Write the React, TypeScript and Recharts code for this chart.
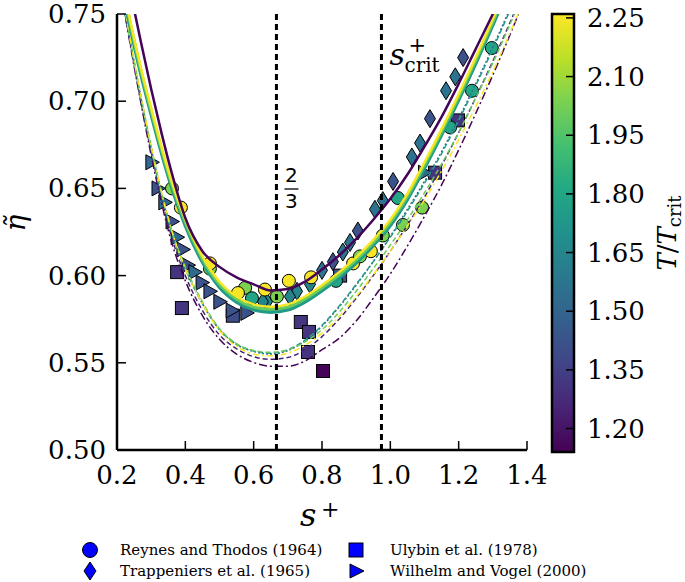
import React from 'react';
import {
  ComposedChart, Line, Scatter, XAxis, YAxis, ReferenceLine, ReferenceArea,
} from 'recharts';

// s+ grid shared by every model curve
const S_GRID = [0.21, 0.24, 0.27, 0.30, 0.33, 0.36, 0.40, 0.45, 0.50, 0.55, 0.60, 0.65, 0.70, 0.75, 0.80, 0.85, 0.90, 0.95, 1.00, 1.05, 1.10, 1.15, 1.20, 1.25, 1.30, 1.35, 1.40];

// solid curves (upper family)
const etaSolidPurple = [0.790, 0.762, 0.734, 0.707, 0.682, 0.659, 0.633, 0.614, 0.605, 0.599, 0.595, 0.5915, 0.5923, 0.5965, 0.6035, 0.6115, 0.621, 0.632, 0.644, 0.658, 0.674, 0.691, 0.710, 0.730, 0.750, 0.771, 0.793];
const etaSolidTeal = [0.772, 0.742, 0.716, 0.693, 0.671, 0.651, 0.629, 0.608, 0.5935, 0.585, 0.5805, 0.5792, 0.5805, 0.585, 0.5915, 0.599, 0.6075, 0.6175, 0.629, 0.644, 0.662, 0.681, 0.701, 0.722, 0.744, 0.767, 0.790];
const etaSolidGreen = [0.773, 0.7435, 0.7175, 0.6945, 0.6725, 0.6525, 0.6305, 0.6095, 0.595, 0.5865, 0.582, 0.5807, 0.582, 0.5865, 0.593, 0.6005, 0.609, 0.619, 0.6305, 0.6455, 0.6635, 0.6825, 0.7025, 0.7235, 0.7455, 0.7685, 0.7915];
const etaSolidYellow = [0.774, 0.745, 0.719, 0.696, 0.674, 0.654, 0.632, 0.611, 0.5965, 0.588, 0.5835, 0.5822, 0.5835, 0.588, 0.5945, 0.602, 0.6105, 0.6205, 0.632, 0.647, 0.665, 0.684, 0.704, 0.725, 0.747, 0.770, 0.793];

// broken curves (lower family)
const etaDashDotPurple = [0.765, 0.731, 0.699, 0.669, 0.642, 0.619, 0.597, 0.577, 0.5635, 0.555, 0.5502, 0.548, 0.548, 0.551, 0.5575, 0.564, 0.574, 0.587, 0.601, 0.617, 0.634, 0.652, 0.672, 0.693, 0.715, 0.738, 0.762];
const etaDashPurple = [0.766, 0.732, 0.700, 0.671, 0.645, 0.622, 0.600, 0.580, 0.566, 0.558, 0.5535, 0.552, 0.553, 0.5575, 0.565, 0.575, 0.587, 0.600, 0.614, 0.629, 0.645, 0.663, 0.682, 0.702, 0.723, 0.745, 0.768];
const etaDotBlue = [0.767, 0.733, 0.702, 0.673, 0.647, 0.625, 0.604, 0.584, 0.569, 0.5605, 0.5565, 0.555, 0.557, 0.5625, 0.571, 0.582, 0.5945, 0.608, 0.6225, 0.638, 0.654, 0.671, 0.690, 0.710, 0.731, 0.753, 0.776];
const etaDashTeal = [0.767, 0.733, 0.702, 0.673, 0.647, 0.625, 0.604, 0.584, 0.569, 0.5605, 0.5568, 0.5555, 0.5575, 0.563, 0.5715, 0.5825, 0.595, 0.608, 0.622, 0.637, 0.653, 0.670, 0.689, 0.709, 0.730, 0.752, 0.775];
const etaDashGreen = [0.768, 0.734, 0.703, 0.674, 0.648, 0.626, 0.605, 0.585, 0.5695, 0.561, 0.557, 0.556, 0.5575, 0.562, 0.569, 0.579, 0.591, 0.604, 0.6175, 0.632, 0.6475, 0.664, 0.682, 0.702, 0.722, 0.744, 0.767];
const etaDashYellow = [0.768, 0.734, 0.703, 0.674, 0.648, 0.626, 0.604, 0.584, 0.5685, 0.5595, 0.555, 0.554, 0.5555, 0.560, 0.567, 0.5765, 0.588, 0.6005, 0.614, 0.6285, 0.6435, 0.660, 0.678, 0.697, 0.717, 0.739, 0.762];

// experimental points: [s+, eta, T/Tcrit]
const reynesThodos = [
  [0.361, 0.650, 2.04], [0.387, 0.639, 2.25], [0.472, 0.604, 2.04], [0.472, 0.607, 2.25],
  [0.575, 0.593, 2.04], [0.554, 0.590, 2.25], [0.595, 0.587, 1.80], [0.633, 0.592, 2.25],
  [0.668, 0.588, 2.04], [0.703, 0.597, 2.25], [0.768, 0.599, 2.25], [0.841, 0.597, 1.80],
  [0.891, 0.607, 2.25], [0.911, 0.611, 2.04], [0.943, 0.614, 2.25], [0.978, 0.623, 2.04],
  [1.022, 0.6445, 1.80], [1.037, 0.629, 2.04], [1.093, 0.639, 2.04], [1.175, 0.685, 1.80],
  [1.239, 0.706, 1.80], [1.297, 0.7305, 1.80],
];
const trappeniers = [
  [1.213, 0.725, 1.42], [1.19, 0.714, 1.56], [1.163, 0.706, 1.56], [1.116, 0.690, 1.42],
  [1.087, 0.676, 1.56], [1.063, 0.668, 1.56], [1.008, 0.654, 1.42], [0.978, 0.643, 1.56],
  [0.955, 0.638, 1.56], [0.905, 0.6256, 1.42], [0.882, 0.619, 1.56], [0.861, 0.6135, 1.56],
  [0.832, 0.608, 1.42], [0.80, 0.603, 1.56], [0.765, 0.595, 1.64], [0.727, 0.591, 1.64],
  [0.706, 0.588, 1.64], [0.639, 0.585, 1.64], [0.627, 0.585, 1.64],
];
const ulybin = [
  [0.376, 0.602, 1.31], [0.390, 0.5814, 1.31], [0.539, 0.577, 1.40], [0.738, 0.5734, 1.31],
  [0.762, 0.5677, 1.31], [0.759, 0.5562, 1.31], [0.803, 0.5453, 1.15], [0.853, 0.600, 1.42],
  [1.131, 0.659, 1.31], [1.198, 0.689, 1.31],
];
const wilhelmVogel = [
  [0.302, 0.665, 1.52], [0.32, 0.650, 1.42], [0.340, 0.642, 1.52], [0.361, 0.631, 1.42],
  [0.376, 0.622, 1.52], [0.393, 0.615, 1.42], [0.408, 0.606, 1.42], [0.428, 0.602, 1.52],
  [0.449, 0.596, 1.42], [0.472, 0.591, 1.42], [0.501, 0.585, 1.42], [0.537, 0.580, 1.42],
  [0.580, 0.5786, 1.42], [1.10, 0.659, 1.52],
];

const X_TICKS = [0.2, 0.4, 0.6, 0.8, 1.0, 1.2, 1.4];
const Y_TICKS = [0.5, 0.55, 0.6, 0.65, 0.7, 0.75];
const CB_TICKS = [1.2, 1.35, 1.5, 1.65, 1.8, 1.95, 2.1, 2.25];
const T_RANGE = [1.14, 2.26];
const S_TWO_THIRDS = 2 / 3;
const S_CRIT = 0.974;
const LEGEND_LABELS = ['Reynes and Thodos (1964)', 'Ulybin et al. (1978)', 'Trappeniers et al. (1965)', 'Wilhelm and Vogel (2000)'];

const VIRIDIS = ['#440154', '#482475', '#414487', '#355f8d', '#2a788e', '#21918c', '#22a884', '#44bf70', '#7ad151', '#bddf26', '#fde725'];
const FONT = 'DejaVu Serif';

function viridis(t: number) {
  const f = Math.min(1, Math.max(0, (t - T_RANGE[0]) / (T_RANGE[1] - T_RANGE[0]))) * 10;
  const i = Math.min(9, Math.floor(f));
  const k = f - i;
  const a = VIRIDIS[i], b = VIRIDIS[i + 1];
  const ch = (h: string, o: number) => parseInt(h.slice(o, o + 2), 16);
  const mix = (o: number) => Math.round(ch(a, o) + (ch(b, o) - ch(a, o)) * k);
  return `rgb(${mix(1)},${mix(3)},${mix(5)})`;
}

const curve = (eta: number[]) => S_GRID.map((s, i) => ({ s, eta: eta[i] }));
const points = (rows: number[][]) => rows.map(([s, eta, t]) => ({ s, eta, t }));

const AXIS = { stroke: '#000', strokeWidth: 2.5 };

const BottomTick = (p: any) => (
  <g>
    <line x1={p.x} x2={p.x} y1={p.y} y2={p.y - 9} stroke="#000" strokeWidth={1.5} />
    <text x={p.x} y={p.y + 34} textAnchor="middle" fontSize={26} fontFamily={FONT} fill="#000">
      {Number(p.payload.value).toFixed(1)}
    </text>
  </g>
);
const TopTick = (p: any) => (
  <line x1={p.x} x2={p.x} y1={p.y} y2={p.y + 9} stroke="#000" strokeWidth={1.5} />
);
const LeftTick = (p: any) => (
  <g>
    <line x1={p.x} x2={p.x + 9} y1={p.y} y2={p.y} stroke="#000" strokeWidth={1.5} />
    <text x={p.x - 11} y={p.y + 9} textAnchor="end" fontSize={26} fontFamily={FONT} fill="#000">
      {Number(p.payload.value).toFixed(2)}
    </text>
  </g>
);
const RightTick = (p: any) => (
  <line x1={p.x} x2={p.x - 9} y1={p.y} y2={p.y} stroke="#000" strokeWidth={1.5} />
);
const CbTick = (p: any) => (
  <g>
    <line x1={p.x} x2={p.x - 8} y1={p.y} y2={p.y} stroke="#000" strokeWidth={1.5} />
    <text x={p.x + 13} y={p.y + 9} textAnchor="start" fontSize={26} fontFamily={FONT} fill="#000">
      {Number(p.payload.value).toFixed(2)}
    </text>
  </g>
);

const circleShape = (p: any) => (
  <circle cx={p.cx} cy={p.cy} r={6.5} fill={viridis(p.payload.t)} stroke="#000" strokeWidth={1} />
);
const squareShape = (p: any) => (
  <rect x={p.cx - 6.5} y={p.cy - 6.5} width={13} height={13} fill={viridis(p.payload.t)} stroke="#000" strokeWidth={1} />
);
const diamondShape = (p: any) => (
  <polygon
    points={`${p.cx},${p.cy - 9} ${p.cx + 5.5},${p.cy} ${p.cx},${p.cy + 9} ${p.cx - 5.5},${p.cy}`}
    fill={viridis(p.payload.t)} stroke="#000" strokeWidth={1}
  />
);
const triangleShape = (p: any) => (
  <polygon
    points={`${p.cx - 6},${p.cy - 7.5} ${p.cx + 7.5},${p.cy} ${p.cx - 6},${p.cy + 7.5}`}
    fill={viridis(p.payload.t)} stroke="#000" strokeWidth={1}
  />
);

const FracLabel = (p: any) => {
  const x = p.viewBox.x + 15;
  const y0 = p.viewBox.y;
  return (
    <g fontFamily="DejaVu Sans" fontSize={20} fill="#000">
      <text x={x} y={y0 + 168} textAnchor="middle">2</text>
      <line x1={x - 7} x2={x + 7} y1={y0 + 175} y2={y0 + 175} stroke="#000" strokeWidth={1.3} />
      <text x={x} y={y0 + 194} textAnchor="middle">3</text>
    </g>
  );
};
const CritLabel = (p: any) => {
  const x = p.viewBox.x;
  const y0 = p.viewBox.y;
  return (
    <text x={x + 8} y={y0 + 51} fontFamily={FONT} fill="#000">
      <tspan fontSize={30} fontStyle="italic">s</tspan>
      <tspan x={x + 27} dy={-13} fontSize={21}>+</tspan>
      <tspan x={x + 23} dy={20} fontSize={20}>crit</tspan>
    </text>
  );
};

const solidLines = [
  { eta: etaSolidTeal, t: 1.75, w: 4 },
  { eta: etaSolidGreen, t: 2.0, w: 3 },
  { eta: etaSolidYellow, t: 2.25, w: 2.5 },
  { eta: etaSolidPurple, t: 1.15, w: 2.5 },
];
const brokenLines = [
  { eta: etaDashDotPurple, t: 1.15, dash: '8 3 2 3' },
  { eta: etaDashPurple, t: 1.25, dash: '5 3' },
  { eta: etaDotBlue, t: 1.5, dash: '2 2' },
  { eta: etaDashTeal, t: 1.75, dash: '5 3' },
  { eta: etaDashGreen, t: 2.0, dash: '5 3' },
  { eta: etaDashYellow, t: 2.25, dash: '6 3 2 3' },
];

function LegendMark({ kind, x, y }: { kind: number; x: number; y: number }) {
  const st = { fill: '#0000ff', stroke: '#000', strokeWidth: 1 };
  if (kind === 0) return <circle cx={x} cy={y} r={7.5} {...st} />;
  if (kind === 1) return <rect x={x - 7} y={y - 7} width={14} height={14} {...st} />;
  if (kind === 2) return <polygon points={`${x},${y - 9} ${x + 6},${y} ${x},${y + 9} ${x - 6},${y}`} {...st} />;
  return <polygon points={`${x - 6},${y - 7} ${x + 8},${y} ${x - 6},${y + 7}`} {...st} />;
}

export default function App() {
  return (
    <div style={{ position: 'absolute', left: 0, top: 0, width: 685, height: 582, background: '#fff', overflow: 'hidden' }}>
      <div style={{ position: 'absolute', left: 0, top: 0 }}>
        <ComposedChart width={685} height={582} margin={{ top: 14, right: 158, bottom: 102, left: 57 }}>
          <XAxis xAxisId={0} dataKey="s" type="number" domain={[0.2, 1.4]} ticks={X_TICKS} allowDataOverflow
            interval={0} height={30} tickSize={0} tickMargin={0} tickLine={false} tick={BottomTick} axisLine={AXIS} />
          <XAxis xAxisId="top" orientation="top" dataKey="s" type="number" domain={[0.2, 1.4]} ticks={X_TICKS} allowDataOverflow
            interval={0} height={0} tickSize={0} tickMargin={0} tickLine={false} tick={TopTick} axisLine={AXIS} />
          <YAxis yAxisId={0} dataKey="eta" type="number" domain={[0.5, 0.75]} ticks={Y_TICKS} allowDataOverflow
            interval={0} width={60} tickSize={0} tickMargin={0} tickLine={false} tick={LeftTick} axisLine={AXIS} />
          <YAxis yAxisId="right" orientation="right" dataKey="eta" type="number" domain={[0.5, 0.75]} ticks={Y_TICKS} allowDataOverflow
            interval={0} width={0} tickSize={0} tickMargin={0} tickLine={false} tick={RightTick} axisLine={AXIS} />

          <Scatter data={points(ulybin)} dataKey="eta" shape={squareShape} isAnimationActive={false} zIndex={350} />
          <Scatter data={points(wilhelmVogel)} dataKey="eta" shape={triangleShape} isAnimationActive={false} zIndex={350} />
          <Scatter data={points(trappeniers)} dataKey="eta" shape={diamondShape} isAnimationActive={false} zIndex={350} />
          <Scatter data={points(reynesThodos)} dataKey="eta" shape={circleShape} isAnimationActive={false} zIndex={350} />

          {brokenLines.map((l, i) => (
            <Line key={`b${i}`} data={curve(l.eta)} dataKey="eta" type="monotone" dot={false} activeDot={false}
              stroke={viridis(l.t)} strokeWidth={1.5} strokeDasharray={l.dash} isAnimationActive={false} />
          ))}
          {solidLines.map((l, i) => (
            <Line key={`s${i}`} data={curve(l.eta)} dataKey="eta" type="monotone" dot={false} activeDot={false}
              stroke={viridis(l.t)} strokeWidth={l.w} isAnimationActive={false} />
          ))}

          <ReferenceLine x={S_TWO_THIRDS} stroke="#000" strokeWidth={3} strokeDasharray="6 4" label={FracLabel} />
          <ReferenceLine x={S_CRIT} stroke="#000" strokeWidth={3} strokeDasharray="6 4" label={CritLabel} />
        </ComposedChart>
      </div>

      <div style={{ position: 'absolute', left: 540, top: 0 }}>
        <ComposedChart width={145} height={582} margin={{ top: 14, right: 0, bottom: 130, left: 12 }}
          data={[{ x: 0, t: T_RANGE[0] }, { x: 1, t: T_RANGE[1] }]}>
          <defs>
            <linearGradient id="viridisGrad" x1="0" y1="1" x2="0" y2="0">
              {VIRIDIS.map((c, i) => <stop key={c} offset={`${i * 10}%`} stopColor={c} />)}
            </linearGradient>
          </defs>
          <XAxis dataKey="x" type="number" domain={[0, 1]} hide />
          <YAxis dataKey="t" orientation="right" type="number" domain={T_RANGE} ticks={CB_TICKS} allowDataOverflow
            interval={0} width={111} tickSize={0} tickMargin={0} tickLine={false} tick={CbTick} axisLine={false} />
          <ReferenceArea x1={0} x2={1} y1={T_RANGE[0]} y2={T_RANGE[1]} fill="url(#viridisGrad)" fillOpacity={1}
            stroke="#000" strokeWidth={2.5} />
        </ComposedChart>
      </div>

      <svg width={685} height={582} style={{ position: 'absolute', left: 0, top: 0, pointerEvents: 'none' }}>
        <g fontFamily={FONT} fill="#000">
          <text transform="translate(25,223) rotate(-90)" textAnchor="middle" fontSize={28} fontStyle="italic">{'\u03B7\u0303'}</text>
          <text x={300} y={526} fontSize={32} fontStyle="italic">s</text>
          <text x={321} y={517} fontSize={22}>+</text>
          <text transform="translate(676,233) rotate(-90)" textAnchor="middle" fontSize={26}>
            <tspan fontStyle="italic">T</tspan>/<tspan fontStyle="italic">T</tspan>
            <tspan fontSize={18} dy={5}>crit</tspan>
          </text>
        </g>
        {LEGEND_LABELS.map((lab, i) => {
          const col = i % 2;
          const row = Math.floor(i / 2);
          const mx = col === 0 ? 90 : 356;
          const tx = col === 0 ? 120 : 390;
          const y = row === 0 ? 550 : 571;
          const kind = [0, 1, 2, 3][i];
          return (
            <g key={lab}>
              <LegendMark kind={kind} x={mx} y={y} />
              <text x={tx} y={y + 5} fontFamily={FONT} fontSize={15} fill="#000">{lab}</text>
            </g>
          );
        })}
      </svg>
    </div>
  );
}
